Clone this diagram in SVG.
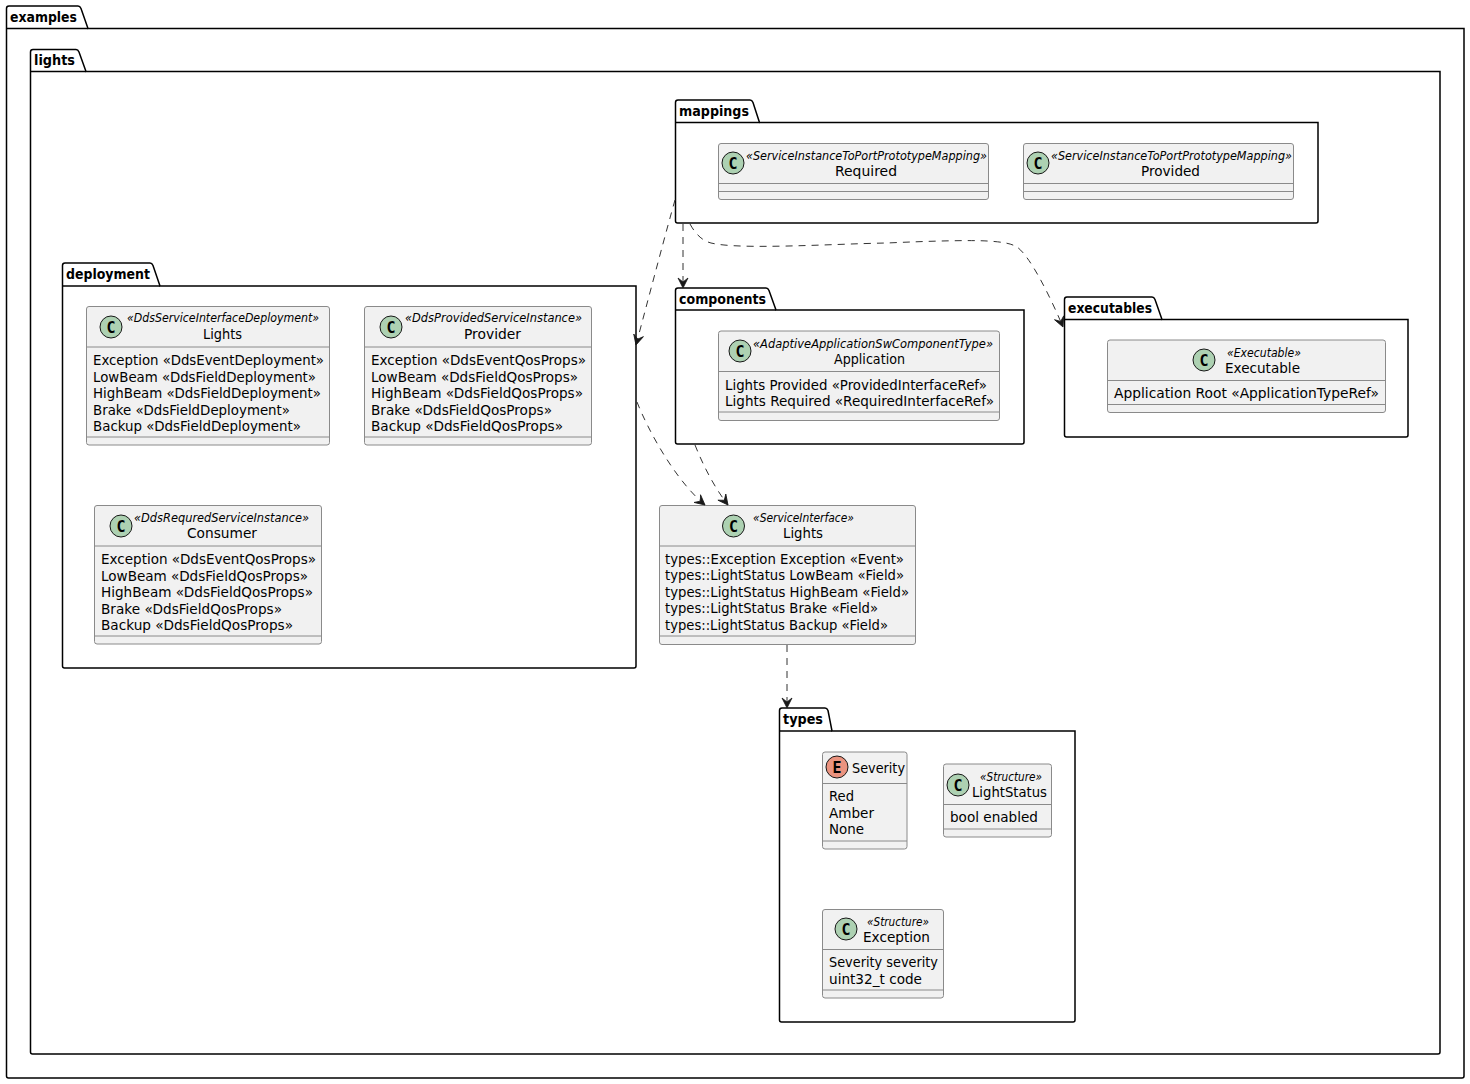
<svg xmlns="http://www.w3.org/2000/svg" width="1470" height="1084" viewBox="0 0 1470 1084">
<style>
text{font-family:"DejaVu Sans","Liberation Sans",sans-serif;fill:#000}
.r{font-size:14px}
.s{font-size:12px;font-style:italic}
.p{font-size:14px;font-weight:bold}
.pk{fill:none;stroke:#000;stroke-width:1.5}
.b{fill:#F1F1F1;stroke:#8a8a8a;stroke-width:1}
.l{stroke:#8a8a8a;stroke-width:1}
.c{fill:#ADD1B2;stroke:#181818;stroke-width:1}
.e{fill:#EB937F;stroke:#181818;stroke-width:1}
.g{font-size:15px;font-weight:bold;font-family:"DejaVu Sans Mono","Liberation Mono",monospace}
.k{fill:none;stroke:#333;stroke-width:1;stroke-dasharray:7 6}
</style>
<defs>
<marker id="a" markerUnits="userSpaceOnUse" markerWidth="14" markerHeight="14" refX="11" refY="6" orient="auto" overflow="visible"><path d="M11,6 L1,1 L5,6 L1,11 Z" fill="#181818" stroke="#181818" stroke-width="0.8" stroke-linejoin="round"/></marker>
</defs>
<g id="pkg-examples"><path class="pk" d="M6.5,28.5V8.5Q6.5,6 9,6H78Q80,6 81,8.5L88,28.5H1464V1076Q1464,1078 1462,1078H8.5Q6.5,1078 6.5,1076Z"/><path class="pk" d="M6.5,28.5H88"/><text class="p" x="10" y="22" textLength="67" lengthAdjust="spacingAndGlyphs">examples</text></g>
<g id="pkg-lights"><path class="pk" d="M30.5,71.5V52Q30.5,49.5 33,49.5H76Q78,49.5 79,52L86,71.5H1440V1052Q1440,1054 1438,1054H32.5Q30.5,1054 30.5,1052Z"/><path class="pk" d="M30.5,71.5H86"/><text class="p" x="34" y="65" textLength="41" lengthAdjust="spacingAndGlyphs">lights</text></g>
<g id="pkg-deployment"><path class="pk" d="M62.5,286V265.5Q62.5,263 65,263H150Q152,263 153,265.5L160,286H636V666Q636,668 634,668H64.5Q62.5,668 62.5,666Z"/><path class="pk" d="M62.5,286H160"/><text class="p" x="66" y="279" textLength="84" lengthAdjust="spacingAndGlyphs">deployment</text></g>
<g id="pkg-mappings"><path class="pk" d="M675.5,122.5V102.5Q675.5,100 678,100H750Q752,100 753,102.5L759.500,122.500H1318V221Q1318,223 1316,223H677.500Q675.500,223 675.500,221Z"/><path class="pk" d="M675.500,122.500H759.500"/><text class="p" x="679" y="116" textLength="70" lengthAdjust="spacingAndGlyphs">mappings</text></g>
<g id="pkg-components"><path class="pk" d="M675.500,310V290.500Q675.500,288 678,288H766Q768,288 769,290.500L776,310H1024V442Q1024,444 1022,444H677.500Q675.500,444 675.500,442Z"/><path class="pk" d="M675.500,310H776"/><text class="p" x="679" y="304" textLength="87" lengthAdjust="spacingAndGlyphs">components</text></g>
<g id="pkg-executables"><path class="pk" d="M1064.500,319.500V299.500Q1064.500,297 1067,297H1152Q1154,297 1155,299.500L1162,319.500H1408V435Q1408,437 1406,437H1066.500Q1064.500,437 1064.500,435Z"/><path class="pk" d="M1064.500,319.500H1162"/><text class="p" x="1068" y="313" textLength="84" lengthAdjust="spacingAndGlyphs">executables</text></g>
<g id="pkg-types"><path class="pk" d="M779.500,731V710.500Q779.500,708 782,708H825Q827,708 828,710.500L832,731H1075V1020Q1075,1022 1073,1022H781.500Q779.500,1022 779.500,1020Z"/><path class="pk" d="M779.500,731H832"/><text class="p" x="783" y="724" textLength="40" lengthAdjust="spacingAndGlyphs">types</text></g>

<g id="cls-required"><rect class="b" x="718.500" y="143.500" width="270" height="56" rx="2.500"/><path class="l" d="M718.500,183.500H988.500M718.500,191.500H988.500"/><circle class="c" cx="733" cy="163" r="11"/><text class="g" x="733" y="168.500" text-anchor="middle">C</text><text class="s" x="746" y="160" textLength="241" lengthAdjust="spacingAndGlyphs">«ServiceInstanceToPortPrototypeMapping»</text><text class="r" x="835" y="176" textLength="62" lengthAdjust="spacingAndGlyphs">Required</text></g>
<g id="cls-provided"><rect class="b" x="1023.500" y="143.500" width="270" height="56" rx="2.500"/><path class="l" d="M1023.500,183.500H1293.500M1023.500,191.500H1293.500"/><circle class="c" cx="1038" cy="163" r="11"/><text class="g" x="1038" y="168.500" text-anchor="middle">C</text><text class="s" x="1051" y="160" textLength="241" lengthAdjust="spacingAndGlyphs">«ServiceInstanceToPortPrototypeMapping»</text><text class="r" x="1141" y="176" textLength="59" lengthAdjust="spacingAndGlyphs">Provided</text></g>

<g id="cls-deploy-lights"><rect class="b" x="86.500" y="306.500" width="243" height="138.500" rx="2.500"/><path class="l" d="M86.500,347H329.500M86.500,437H329.500"/><circle class="c" cx="111" cy="327" r="11"/><text class="g" x="111" y="332.500" text-anchor="middle">C</text><text class="s" x="127" y="322" textLength="192" lengthAdjust="spacingAndGlyphs">«DdsServiceInterfaceDeployment»</text><text class="r" x="203" y="339" textLength="39" lengthAdjust="spacingAndGlyphs">Lights</text>
<text class="r" x="93" y="365" textLength="231" lengthAdjust="spacingAndGlyphs">Exception «DdsEventDeployment»</text><text class="r" x="93" y="381.500" textLength="223" lengthAdjust="spacingAndGlyphs">LowBeam «DdsFieldDeployment»</text><text class="r" x="93" y="398" textLength="228" lengthAdjust="spacingAndGlyphs">HighBeam «DdsFieldDeployment»</text><text class="r" x="93" y="414.500" textLength="197" lengthAdjust="spacingAndGlyphs">Brake «DdsFieldDeployment»</text><text class="r" x="93" y="431" textLength="208" lengthAdjust="spacingAndGlyphs">Backup «DdsFieldDeployment»</text></g>

<g id="cls-provider"><rect class="b" x="364.500" y="306.500" width="227" height="138.500" rx="2.500"/><path class="l" d="M364.500,347H591.500M364.500,437H591.500"/><circle class="c" cx="391" cy="327" r="11"/><text class="g" x="391" y="332.500" text-anchor="middle">C</text><text class="s" x="405" y="322" textLength="177" lengthAdjust="spacingAndGlyphs">«DdsProvidedServiceInstance»</text><text class="r" x="464" y="339" textLength="57" lengthAdjust="spacingAndGlyphs">Provider</text>
<text class="r" x="371" y="365" textLength="215" lengthAdjust="spacingAndGlyphs">Exception «DdsEventQosProps»</text><text class="r" x="371" y="381.500" textLength="207" lengthAdjust="spacingAndGlyphs">LowBeam «DdsFieldQosProps»</text><text class="r" x="371" y="398" textLength="212" lengthAdjust="spacingAndGlyphs">HighBeam «DdsFieldQosProps»</text><text class="r" x="371" y="414.500" textLength="181" lengthAdjust="spacingAndGlyphs">Brake «DdsFieldQosProps»</text><text class="r" x="371" y="431" textLength="192" lengthAdjust="spacingAndGlyphs">Backup «DdsFieldQosProps»</text></g>

<g id="cls-consumer"><rect class="b" x="94.500" y="505.500" width="227" height="138.500" rx="2.500"/><path class="l" d="M94.500,546H321.500M94.500,636H321.500"/><circle class="c" cx="121" cy="526" r="11"/><text class="g" x="121" y="531.500" text-anchor="middle">C</text><text class="s" x="134" y="522" textLength="175" lengthAdjust="spacingAndGlyphs">«DdsRequredServiceInstance»</text><text class="r" x="187" y="538" textLength="70" lengthAdjust="spacingAndGlyphs">Consumer</text>
<text class="r" x="101" y="564" textLength="215" lengthAdjust="spacingAndGlyphs">Exception «DdsEventQosProps»</text><text class="r" x="101" y="580.500" textLength="207" lengthAdjust="spacingAndGlyphs">LowBeam «DdsFieldQosProps»</text><text class="r" x="101" y="597" textLength="212" lengthAdjust="spacingAndGlyphs">HighBeam «DdsFieldQosProps»</text><text class="r" x="101" y="613.500" textLength="181" lengthAdjust="spacingAndGlyphs">Brake «DdsFieldQosProps»</text><text class="r" x="101" y="630" textLength="192" lengthAdjust="spacingAndGlyphs">Backup «DdsFieldQosProps»</text></g>

<g id="cls-application"><rect class="b" x="718.500" y="331" width="281" height="89.500" rx="2.500"/><path class="l" d="M718.500,371.500H999.500M718.500,412H999.500"/><circle class="c" cx="740" cy="351" r="11"/><text class="g" x="740" y="356.500" text-anchor="middle">C</text><text class="s" x="753" y="347.500" textLength="240" lengthAdjust="spacingAndGlyphs">«AdaptiveApplicationSwComponentType»</text><text class="r" x="834" y="363.500" textLength="71" lengthAdjust="spacingAndGlyphs">Application</text><text class="r" x="725" y="389.500" textLength="262" lengthAdjust="spacingAndGlyphs">Lights Provided «ProvidedInterfaceRef»</text><text class="r" x="725" y="406" textLength="269" lengthAdjust="spacingAndGlyphs">Lights Required «RequiredInterfaceRef»</text></g>

<g id="cls-executable"><rect class="b" x="1107.500" y="340" width="278" height="72.500" rx="2.500"/><path class="l" d="M1107.500,380.500H1385.500M1107.500,404.500H1385.500"/><circle class="c" cx="1204" cy="360" r="11"/><text class="g" x="1204" y="365.500" text-anchor="middle">C</text><text class="s" x="1227" y="356.500" textLength="74" lengthAdjust="spacingAndGlyphs">«Executable»</text><text class="r" x="1225" y="372.500" textLength="75" lengthAdjust="spacingAndGlyphs">Executable</text><text class="r" x="1114" y="398" textLength="265" lengthAdjust="spacingAndGlyphs">Application Root «ApplicationTypeRef»</text></g>

<g id="cls-service-lights"><rect class="b" x="659.500" y="505.500" width="256" height="139" rx="2.500"/><path class="l" d="M659.500,546H915.500M659.500,636H915.500"/><circle class="c" cx="733.500" cy="526" r="11"/><text class="g" x="733.500" y="531.500" text-anchor="middle">C</text><text class="s" x="753" y="522" textLength="101" lengthAdjust="spacingAndGlyphs">«ServiceInterface»</text><text class="r" x="783" y="538" textLength="40" lengthAdjust="spacingAndGlyphs">Lights</text>
<text class="r" x="665" y="564" textLength="239" lengthAdjust="spacingAndGlyphs">types::Exception Exception «Event»</text><text class="r" x="665" y="580" textLength="239" lengthAdjust="spacingAndGlyphs">types::LightStatus LowBeam «Field»</text><text class="r" x="665" y="597" textLength="244" lengthAdjust="spacingAndGlyphs">types::LightStatus HighBeam «Field»</text><text class="r" x="665" y="613" textLength="213" lengthAdjust="spacingAndGlyphs">types::LightStatus Brake «Field»</text><text class="r" x="665" y="630" textLength="223" lengthAdjust="spacingAndGlyphs">types::LightStatus Backup «Field»</text></g>

<g id="cls-severity"><rect class="b" x="822.500" y="752" width="84.500" height="97" rx="2.500"/><path class="l" d="M822.500,783.500H907M822.500,841H907"/><circle class="e" cx="837" cy="767" r="11"/><text class="g" x="837" y="772.500" text-anchor="middle">E</text><text class="r" x="852" y="773" textLength="53" lengthAdjust="spacingAndGlyphs">Severity</text><text class="r" x="829" y="801" textLength="25" lengthAdjust="spacingAndGlyphs">Red</text><text class="r" x="829" y="818" textLength="45" lengthAdjust="spacingAndGlyphs">Amber</text><text class="r" x="829" y="834" textLength="35" lengthAdjust="spacingAndGlyphs">None</text></g>

<g id="cls-lightstatus"><rect class="b" x="943.500" y="764" width="108" height="73" rx="2.500"/><path class="l" d="M943.500,804.500H1051.500M943.500,829H1051.500"/><circle class="c" cx="958" cy="785" r="11"/><text class="g" x="958" y="790.500" text-anchor="middle">C</text><text class="s" x="980" y="781" textLength="62" lengthAdjust="spacingAndGlyphs">«Structure»</text><text class="r" x="972" y="797" textLength="75" lengthAdjust="spacingAndGlyphs">LightStatus</text><text class="r" x="950" y="822" textLength="88" lengthAdjust="spacingAndGlyphs">bool enabled</text></g>

<g id="cls-exception"><rect class="b" x="822.500" y="909.500" width="121" height="88.500" rx="2.500"/><path class="l" d="M822.500,949.500H943.500M822.500,990H943.500"/><circle class="c" cx="846" cy="929" r="11"/><text class="g" x="846" y="934.500" text-anchor="middle">C</text><text class="s" x="867" y="926" textLength="62" lengthAdjust="spacingAndGlyphs">«Structure»</text><text class="r" x="863" y="942" textLength="67" lengthAdjust="spacingAndGlyphs">Exception</text><text class="r" x="829" y="967" textLength="109" lengthAdjust="spacingAndGlyphs">Severity severity</text><text class="r" x="829" y="984" textLength="93" lengthAdjust="spacingAndGlyphs">uint32_t code</text></g>

<g id="connectors">
<path class="k" d="M675,200C667,228 652,285 636,345" marker-end="url(#a)"/>
<path class="k" d="M683,224V288" marker-end="url(#a)"/>
<path class="k" d="M690,224C696,235 703,241 711,243C740,250 830,244 887,243C930,241 970,240 987,241C1005,242 1012,244 1017,247C1030,256 1050,296 1063,327" marker-end="url(#a)"/>
<path class="k" d="M637,402C648,430 675,480 705,505" marker-end="url(#a)"/>
<path class="k" d="M695,445C703,465 714,487 728,505" marker-end="url(#a)"/>
<path class="k" d="M787,645V708" marker-end="url(#a)"/>
</g>
</svg>
